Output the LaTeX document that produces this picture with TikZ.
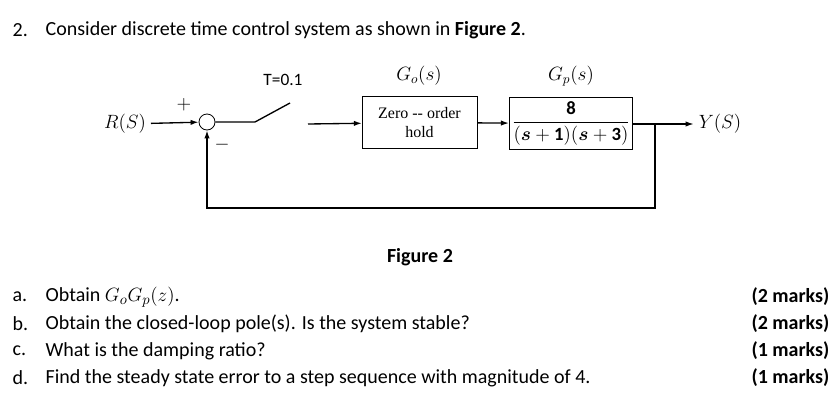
\documentclass[tikz,border=0pt]{standalone}
\usepackage{amsmath,amssymb}
\usepackage{fontspec}
\setmainfont{Carlito}
\newfontfamily\boxfont{Liberation Serif}
\usetikzlibrary{arrows.meta}
\begin{document}
\begin{tikzpicture}[x=0.75pt,y=-0.75pt,>={Latex[length=6pt,width=4pt]},
                    line width=1pt,font=\fontsize{14}{16}\selectfont,
                    block/.style={draw,line width=0.5pt,minimum height=39pt,inner sep=2pt},
                    txt/.style={anchor=west,inner sep=0pt,font=\fontsize{15}{17}\selectfont}]
  \useasboundingbox (0,0) rectangle (840,411);
  % heading
  \node[txt] (num) at (12,30) {2.};
  \node[txt] (head) at (45,30) {Consider discrete time control system as shown in \textbf{Figure 2}.};
  % block diagram
  \node[circle,draw,line width=0.6pt,minimum size=12pt,inner sep=0pt] (sum) at (207,122) {};
  \node (in) at (125,124) {$R(S)$};
  \coordinate (sw1) at (255,122);
  \coordinate (sw2) at (290,103);
  \coordinate (sw3) at (308,124);
  \node[block,minimum width=86pt,font=\boxfont\fontsize{12}{14}\selectfont,align=center] (zoh) at (419.5,122.5) {Zero -- order\\ hold};
  \node[block,minimum width=88pt] (gp) at (571,123.5) {$\dfrac{\mathbf{8}}{(\boldsymbol{s}+\mathbf{1})(\boldsymbol{s}+\mathbf{3})}$};
  \coordinate (branch) at (655,124);
  \node (out) at (720,124) {$Y(S)$};
  \coordinate (fb1) at (655,208);
  \coordinate (fb2) at (207,208);
  \node[font=\fontsize{13}{15}\selectfont] (T) at (283,80) {T=0.1};
  \node (go) at (419,76) {$G_o(s)$};
  \node (gps) at (571,76) {$G_p(s)$};
  \node (plus) at (184,105) {$+$};
  \node (minus) at (222,145) {$-$};
  \draw[->] (in) -- (sum);
  \draw (sum) -- (sw1) -- (sw2);
  \draw[->] (sw3) -- (zoh);
  \draw[->] (zoh) -- (gp);
  \draw[->] (gp.east |- branch) -- (out);
  \draw[->] (branch) -- (fb1) -- (fb2) -- (sum);
  \node[font=\fontsize{15}{17}\selectfont] (fig) at (420,257) {\textbf{Figure 2}};
  % questions
  \foreach \lab/\q/\m [count=\i] in {a./{Obtain $G_oG_p(z)$.}/2,
      b./{Obtain the closed-loop pole(s). Is the system stable?}/2,
      c./{What is the damping ratio?}/1,
      d./{Find the steady state error to a step sequence with magnitude of 4.}/1}{
    \node[txt] (l\i) at (12,270+27*\i) {\lab};
    \node[txt] (q\i) at (45,270+27*\i) {\q};
    \node[txt,anchor=east] (m\i) at (830,270+27*\i) {\textbf{(\m\ marks)}};
  }
\end{tikzpicture}
\end{document}
